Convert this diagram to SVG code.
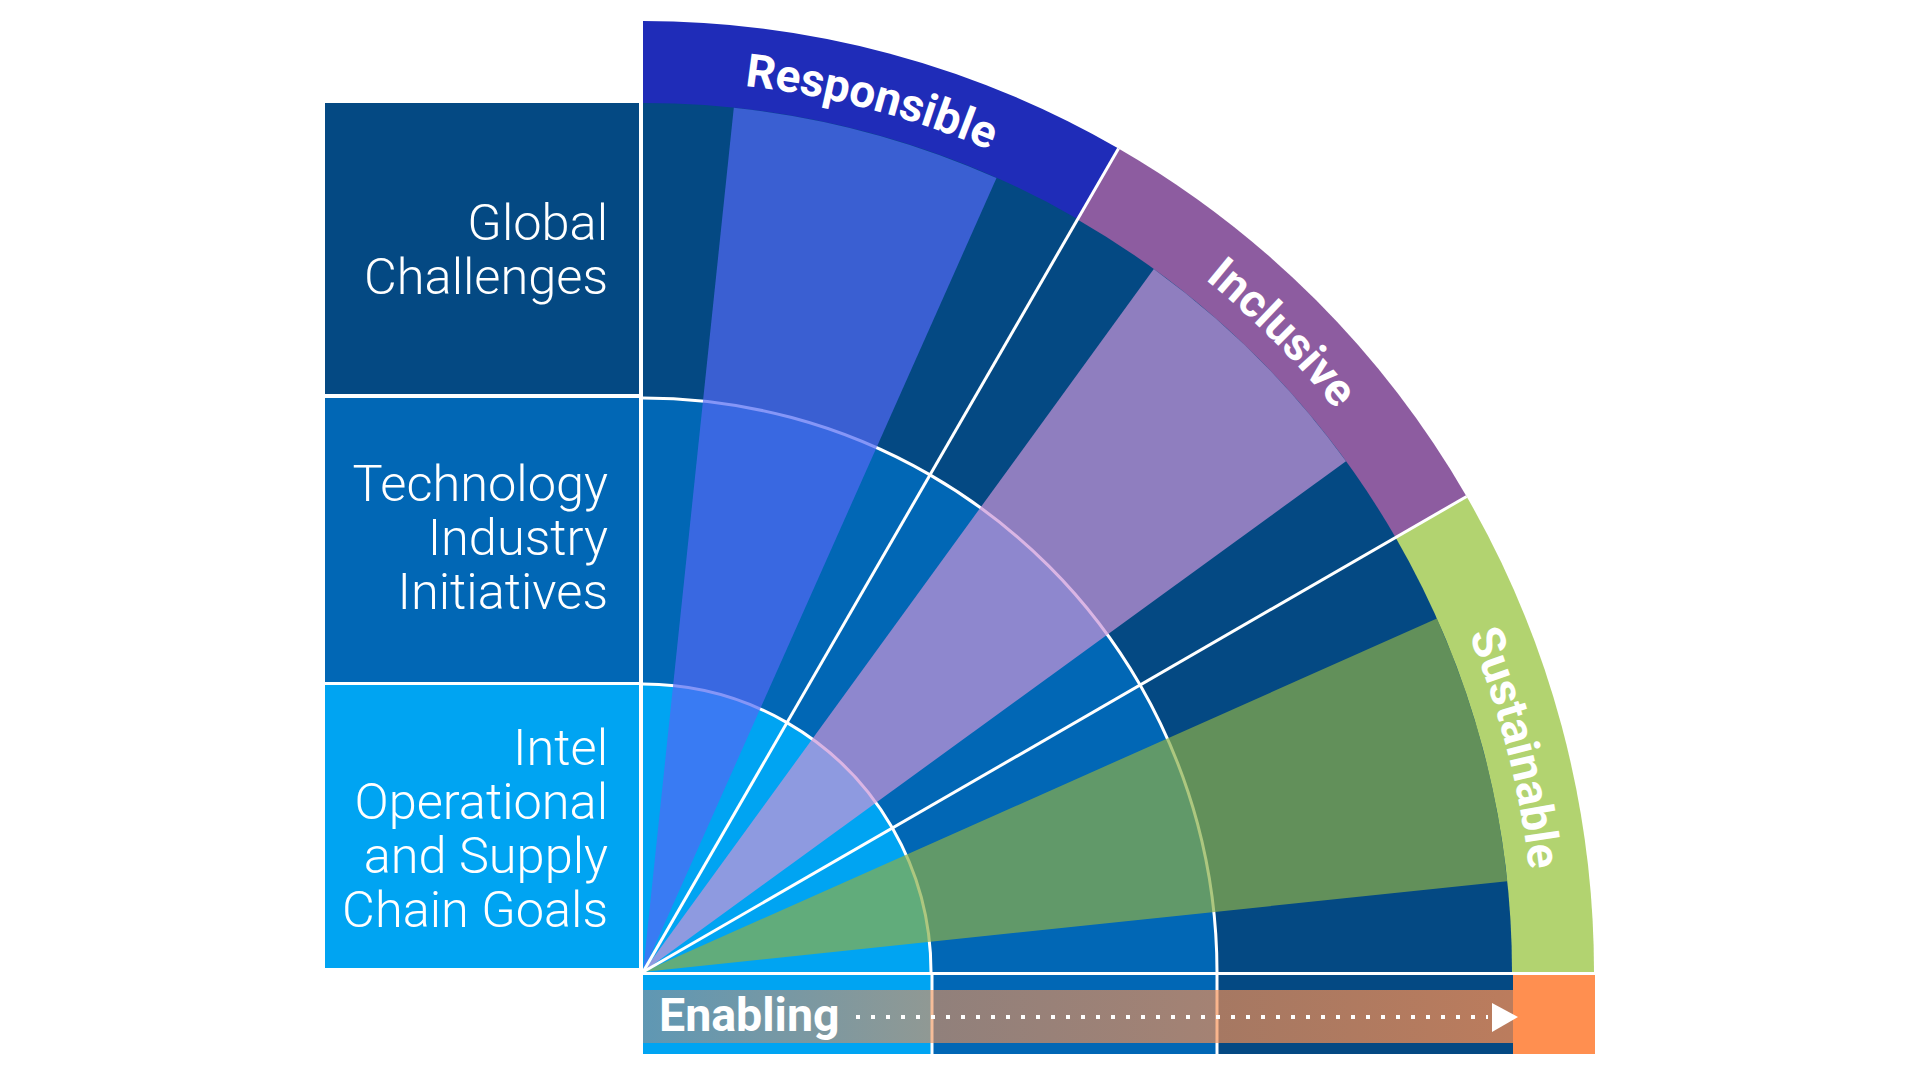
<svg xmlns="http://www.w3.org/2000/svg" width="1920" height="1080" viewBox="0 0 1920 1080">
<defs>
<style>
.box-label{font-family:Roboto,"Liberation Sans",sans-serif;font-weight:300;font-size:50.5px;fill:#fff;text-anchor:end}
.band-label{font-family:Roboto,"Liberation Sans",sans-serif;font-weight:700;font-size:46px;fill:#fff;text-anchor:middle}
.sep{stroke:#fff;stroke-width:3;fill:none}
</style>
<linearGradient id="enableGrad" x1="643" y1="0" x2="1513" y2="0" gradientUnits="userSpaceOnUse">
<stop offset="0" stop-color="rgb(158,143,138)" stop-opacity="0.6"/>
<stop offset="0.33" stop-color="rgb(240,145,85)" stop-opacity="0.6"/>
<stop offset="1" stop-color="rgb(255,143,79)" stop-opacity="0.73"/>
</linearGradient>
<path id="arcResp" d="M643 80 A892 892 0 0 1 1089 199.5"/>
<path id="arcIncl" d="M1089 199.5 A892 892 0 0 1 1415.5 526"/>
<path id="arcSust" d="M1415.5 526 A892 892 0 0 1 1535 972"/>
</defs>
<rect width="1920" height="1080" fill="#fff"/>

<g id="global-challenges">
<rect x="325" y="103" width="314" height="291" fill="#044983"/>
<text class="box-label"><tspan x="608" y="240">Global</tspan><tspan x="608" y="294">Challenges</tspan></text>
</g>
<g id="technology-industry-initiatives">
<rect x="325" y="398" width="314" height="284" fill="#0167b5"/>
<text class="box-label"><tspan x="608" y="501">Technology</tspan><tspan x="608" y="555">Industry</tspan><tspan x="608" y="609">Initiatives</tspan></text>
</g>
<g id="intel-operational-goals">
<rect x="325" y="685" width="314" height="283" fill="#00a4f2"/>
<text class="box-label"><tspan x="608" y="765">Intel</tspan><tspan x="608" y="819">Operational</tspan><tspan x="608" y="873">and Supply</tspan><tspan x="608" y="927">Chain Goals</tspan></text>
</g>

<g id="fan-rings">
<path d="M643 972 L643 103 A869 869 0 0 1 1512 972 Z" fill="#044983"/>
<path d="M643 972 L643 398 A574 574 0 0 1 1217 972 Z" fill="#0167b5"/>
<path d="M643 972 L643 684 A288 288 0 0 1 931 972 Z" fill="#00a4f2"/>
<path class="sep" d="M643 684 A288 288 0 0 1 931 972"/>
<path class="sep" d="M643 398 A574 574 0 0 1 1217 972"/>
</g>

<g id="responsible">
<path d="M643 972 L643 21 A951 951 0 0 1 1118.5 148.4 L643 972 Z" fill="#1f2cb8"/>
<path d="M643 972 L643 103 A869 869 0 0 1 1078.5 219.4 Z" fill="#044983"/>
<path d="M643 972 L643 398 A574 574 0 0 1 930 474.9 Z" fill="#0167b5"/>
<path d="M643 972 L643 684 A288 288 0 0 1 787 722.6 Z" fill="#00a4f2"/>
<path class="sep" d="M643 684 A288 288 0 0 1 787 722.6"/>
<path class="sep" d="M643 398 A574 574 0 0 1 930 474.9"/>
<path d="M643 972 L733.8 107.8 A869 869 0 0 1 996.5 178.1 Z" fill="rgb(81,106,243)" fill-opacity="0.7"/>
<text class="band-label"><textPath href="#arcResp" startOffset="49%">Responsible</textPath></text>
</g>

<g id="inclusive">
<path d="M643 972 L1118.5 148.4 A951 951 0 0 1 1466.6 496.5 Z" fill="#8d5ca0"/>
<path d="M643 972 L1077.5 219.4 A869 869 0 0 1 1395.6 537.5 Z" fill="#044983"/>
<path d="M643 972 L930 474.9 A574 574 0 0 1 1140.1 685 Z" fill="#0167b5"/>
<path d="M643 972 L787 722.6 A288 288 0 0 1 892.4 828 Z" fill="#00a4f2"/>
<path class="sep" d="M787 722.6 A288 288 0 0 1 892.4 828"/>
<path class="sep" d="M930 474.9 A574 574 0 0 1 1140.1 685"/>
<path d="M643 972 L1153.8 269 A869 869 0 0 1 1346 461.2 Z" fill="rgb(202,149,217)" fill-opacity="0.7"/>
<text class="band-label"><textPath href="#arcIncl" startOffset="50%">Inclusive</textPath></text>
</g>

<g id="sustainable">
<path d="M643 972 L1466.6 496.5 A951 951 0 0 1 1594 972 Z" fill="#b2d370"/>
<path d="M643 972 L1395.6 537.5 A869 869 0 0 1 1512 972 Z" fill="#044983"/>
<path d="M643 972 L1140.1 685 A574 574 0 0 1 1217 972 Z" fill="#0167b5"/>
<path d="M643 972 L892.4 828 A288 288 0 0 1 931 972 Z" fill="#00a4f2"/>
<path class="sep" d="M892.4 828 A288 288 0 0 1 931 972"/>
<path class="sep" d="M1140.1 685 A574 574 0 0 1 1217 972"/>
<path d="M643 972 L1436.9 618.5 A869 869 0 0 1 1507.2 881.2 Z" fill="rgb(138,175,72)" fill-opacity="0.7"/>
<text class="band-label"><textPath href="#arcSust" startOffset="52%">Sustainable</textPath></text>
</g>

<g id="connectors">
<line class="sep" x1="643" y1="972" x2="1118.5" y2="148.4"/>
<line class="sep" x1="643" y1="972" x2="1466.6" y2="496.5"/>
</g>

<g id="enabling">
<rect x="643" y="975" width="287.5" height="79" fill="#00a4f2"/>
<rect x="933.5" y="975" width="282" height="79" fill="#0167b5"/>
<rect x="1218.5" y="975" width="294.5" height="79" fill="#044983"/>
<rect x="1513" y="975" width="82" height="79" fill="#ff8f50"/>
<rect x="643" y="990" width="870" height="53" fill="url(#enableGrad)"/>
<text x="659" y="1031" font-family="Roboto, 'Liberation Sans', sans-serif" font-weight="700" font-size="46.5" fill="#fff">Enabling</text>
<line x1="856" y1="1017" x2="1488" y2="1017" stroke="#fff" stroke-width="4" stroke-dasharray="4 11"/>
<polygon points="1492,1003 1518,1017 1492,1032" fill="#fff"/>
</g>
</svg>
